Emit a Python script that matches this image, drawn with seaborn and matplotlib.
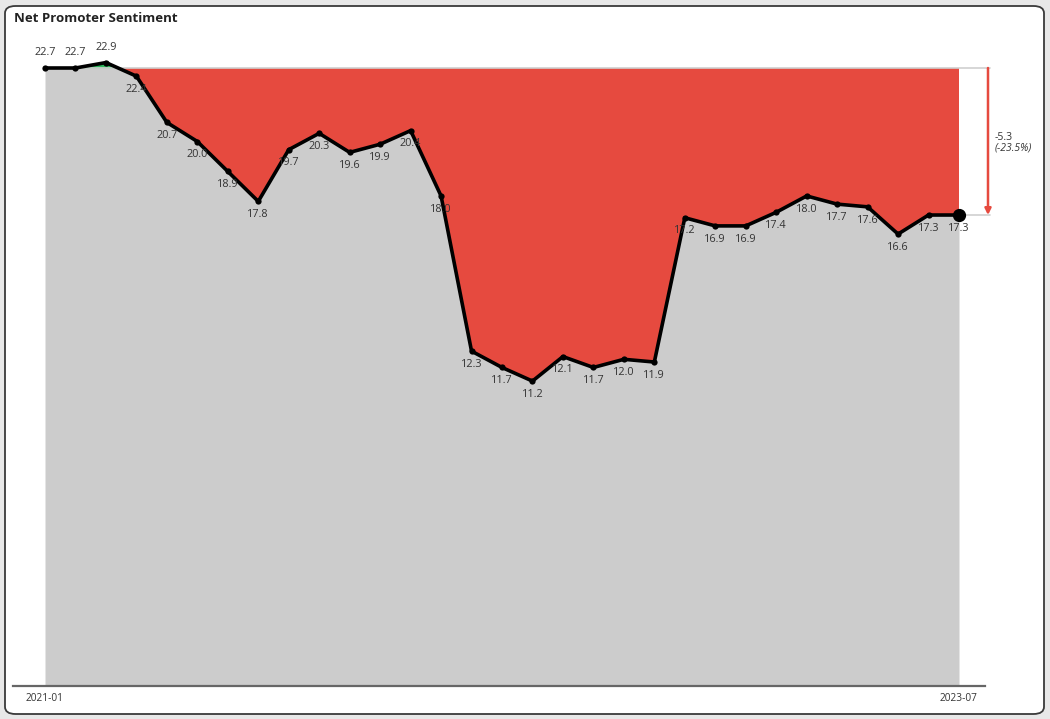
import matplotlib
matplotlib.use("Agg")
import matplotlib.pyplot as plt
from matplotlib.patches import FancyBboxPatch
import numpy as np
import pandas as pd
import seaborn as sns

months = pd.period_range("2021-01", "2023-07", freq="M").strftime("%Y-%m").tolist()
values = [22.7, 22.7, 22.9, 22.4, 20.7, 20.0, 18.9, 17.8, 19.7, 20.3, 19.6, 19.9, 20.4,
          18.0, 12.3, 11.7, 11.2, 12.1, 11.7, 12.0, 11.9, 17.2, 16.9, 16.9, 17.4, 18.0,
          17.7, 17.6, 16.6, 17.3, 17.3]
change_label = "-5.3"
change_pct_label = "(-23.5%)"
title = "Net Promoter Sentiment"

sns.set_theme(style="white")
plt.rcParams['font.family'] = ['Open Sans', 'DejaVu Sans']

W, H = 1050, 719
fig = plt.figure(figsize=(W / 100, H / 100), dpi=100)
fig.patch.set_facecolor("#e8e8e8")
frame = FancyBboxPatch((5 / W, 5 / H), (W - 11) / W, (H - 11) / H,
                       boxstyle="round,pad=0,rounding_size=0.01",
                       transform=fig.transFigure, facecolor="white",
                       edgecolor="#3a3a3a", linewidth=1.3, zorder=-10)
fig.patches.append(frame)

# axes placement (pixels)
left, right, top, bottom = 13, 985, 40, 686
ax = fig.add_axes([left / W, (H - bottom) / H, (right - left) / W, (bottom - top) / H])
ax.set_facecolor("none")
ax.patch.set_alpha(0)

df = pd.DataFrame({"idx": np.arange(len(values)), "month": months, "value": values})
n = len(values)
x = df["idx"].to_numpy()
y = df["value"].to_numpy()
base = y[0]

px_per_unit = (686 - 68) / 22.7
ax.set_ylim(0, (bottom - top) / px_per_unit)
xstep = (959 - 45) / (n - 1)
ax.set_xlim(-(45 - left) / xstep, (n - 1) + (right - 959) / xstep)

ax.fill_between(x, 0, y, color="#cccccc", linewidth=0, zorder=1)
ax.fill_between(x, y, base, where=y <= base, interpolate=True, color="#e64a3f", linewidth=0, zorder=1)
ax.fill_between(x, y, base, where=y >= base, interpolate=True, color="#2eb85c", linewidth=0, zorder=1)

# reference lines
ax.plot([x[0], n - 1 + 31 / xstep], [base, base], color="#cfcfcf", lw=1.2, zorder=1.5, clip_on=False)
ax.plot([x[-1], n - 1 + 31 / xstep], [y[-1], y[-1]], color="#cfcfcf", lw=1.2, zorder=1.5, clip_on=False)

sns.lineplot(data=df, x="idx", y="value", ax=ax, color="black", linewidth=2.6,
             marker="o", markersize=4.5, markeredgewidth=0, zorder=3)
ax.plot([x[-1]], [y[-1]], "o", color="black", markersize=8.5, zorder=4)

for i, (xi, yi) in enumerate(zip(x, y)):
    if yi >= base:
        ax.annotate(f"{yi:.1f}", (xi, yi), xytext=(0, 11), textcoords="offset points",
                    ha="center", va="center", fontsize=7.8, color="#333333", zorder=5)
    else:
        ax.annotate(f"{yi:.1f}", (xi, yi), xytext=(0, -9.5), textcoords="offset points",
                    ha="center", va="center", fontsize=7.8, color="#333333", zorder=5)

# change arrow
ax_x = n - 1 + 29 / xstep
ax.annotate("", xy=(ax_x, y[-1]), xytext=(ax_x, base),
            arrowprops=dict(arrowstyle="-|>", color="#e64a3f", lw=1.8, mutation_scale=9,
                            shrinkA=0, shrinkB=0), annotation_clip=False, zorder=5)
tx = n - 1 + 36 / xstep
ymid = (base + y[-1]) / 2
ax.text(tx, ymid - 0.05, change_label, fontsize=7.5, color="#333333", ha="left", va="bottom", clip_on=False)
ax.text(tx, ymid - 0.05, change_pct_label, fontsize=7.5, color="#333333", ha="left", va="top",
        style="italic", clip_on=False)

# axis styling
for s in ["top", "right", "left"]:
    ax.spines[s].set_visible(False)
ax.spines["bottom"].set_color("#666666")
ax.spines["bottom"].set_linewidth(1.6)
ax.set_yticks([])
ax.set_xticks([0, n - 1])
ax.set_xticklabels([months[0], months[-1]], fontsize=7.3, color="#333333")
ax.tick_params(axis="x", length=0, pad=5)
ax.set_xlabel("")
ax.set_ylabel("")

fig.text(14 / W, 1 - 18 / H, title, fontsize=9.5, fontweight="bold", color="#222222",
         ha="left", va="center")

fig.savefig("out.png", dpi=100, facecolor=fig.get_facecolor())
